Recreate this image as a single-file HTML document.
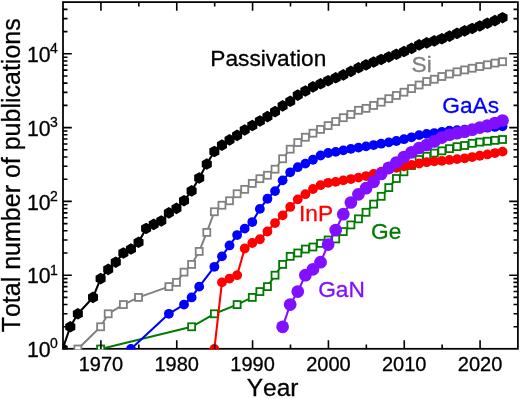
<!DOCTYPE html>
<html lang="en"><head><meta charset="utf-8"><title>Total number of publications</title>
<style>text{font-kerning:none;stroke-width:0.3px;paint-order:stroke fill}html,body{margin:0;padding:0;background:#fff}body{width:520px;height:399px;overflow:hidden;position:relative;font-family:"Liberation Sans",Arial,sans-serif}</style>
</head><body>
<svg width="520" height="399" viewBox="0 0 520 399" style="display:block;position:absolute;left:0;top:0;filter:blur(0.4px)" font-family="'Liberation Sans', Arial, sans-serif">
<rect width="520" height="399" fill="#fff"/>
<defs><clipPath id="c"><rect x="62.6" y="1.6" width="455.8" height="347.8"/></clipPath></defs>
<rect x="63" y="2.1" width="454.9" height="346.7" fill="none" stroke="#000" stroke-width="1.75"/>
<g clip-path="url(#c)">
<polyline fill="none" stroke="#000" stroke-width="2.1" stroke-linejoin="round" points="62.7,349 70.28,326.78 77.87,313.79 93.03,297.42 100.62,278.58 108.2,269.36 115.78,262.2 123.37,252.98 130.95,249.07 138.53,242.31 146.12,228.45 153.7,224.33 161.28,220.97 168.87,212.92 176.45,208.39 184.03,200.7 191.62,190.89 199.2,178 206.78,164.05 214.37,151.5 221.95,145.15 229.53,139.9 237.12,135.35 244.7,129.95 252.28,125.49 259.87,120.99 267.45,116.59 275.03,111.59 282.62,105.85 290.2,101.3 297.78,95.11 305.37,91 312.95,86.85 320.53,83.8 328.12,80.69 335.7,77.79 343.28,74.88 350.87,71.38 358.45,67.82 366.03,64.9 373.62,62.04 381.2,59.43 388.78,56.95 396.37,54.24 403.95,51.56 411.53,48.37 419.12,44.91 426.7,42.88 434.28,40.91 441.87,38.76 449.45,36.15 457.03,33.34 464.62,30.9 472.2,28.46 479.78,25.93 487.37,23.26 494.95,20.59 502.53,17.7"/>
<g fill="#000">
<polygon points="62.7,343.2 57.68,346.1 57.68,351.9 62.7,354.8 67.72,351.9 67.72,346.1"/>
<polygon points="70.28,320.98 65.26,323.88 65.26,329.68 70.28,332.58 75.31,329.68 75.31,323.88"/>
<polygon points="77.87,307.99 72.84,310.89 72.84,316.69 77.87,319.59 82.89,316.69 82.89,310.89"/>
<polygon points="93.03,291.62 88.01,294.52 88.01,300.32 93.03,303.22 98.06,300.32 98.06,294.52"/>
<polygon points="100.62,272.78 95.59,275.68 95.59,281.48 100.62,284.38 105.64,281.48 105.64,275.68"/>
<polygon points="108.2,263.56 103.18,266.46 103.18,272.26 108.2,275.16 113.22,272.26 113.22,266.46"/>
<polygon points="115.78,256.4 110.76,259.3 110.76,265.1 115.78,268 120.81,265.1 120.81,259.3"/>
<polygon points="123.37,247.18 118.34,250.08 118.34,255.88 123.37,258.78 128.39,255.88 128.39,250.08"/>
<polygon points="130.95,243.27 125.93,246.17 125.93,251.97 130.95,254.87 135.97,251.97 135.97,246.17"/>
<polygon points="138.53,236.51 133.51,239.41 133.51,245.21 138.53,248.11 143.56,245.21 143.56,239.41"/>
<polygon points="146.12,222.65 141.09,225.55 141.09,231.35 146.12,234.25 151.14,231.35 151.14,225.55"/>
<polygon points="153.7,218.53 148.68,221.43 148.68,227.23 153.7,230.13 158.72,227.23 158.72,221.43"/>
<polygon points="161.28,215.17 156.26,218.07 156.26,223.87 161.28,226.77 166.31,223.87 166.31,218.07"/>
<polygon points="168.87,207.12 163.84,210.02 163.84,215.82 168.87,218.72 173.89,215.82 173.89,210.02"/>
<polygon points="176.45,202.59 171.43,205.49 171.43,211.29 176.45,214.19 181.47,211.29 181.47,205.49"/>
<polygon points="184.03,194.9 179.01,197.8 179.01,203.6 184.03,206.5 189.06,203.6 189.06,197.8"/>
<polygon points="191.62,185.09 186.59,187.99 186.59,193.79 191.62,196.69 196.64,193.79 196.64,187.99"/>
<polygon points="199.2,172.2 194.18,175.1 194.18,180.9 199.2,183.8 204.22,180.9 204.22,175.1"/>
<polygon points="206.78,158.25 201.76,161.15 201.76,166.95 206.78,169.85 211.81,166.95 211.81,161.15"/>
<polygon points="214.37,145.7 209.34,148.6 209.34,154.4 214.37,157.3 219.39,154.4 219.39,148.6"/>
<polygon points="221.95,139.35 216.93,142.25 216.93,148.05 221.95,150.95 226.97,148.05 226.97,142.25"/>
<polygon points="229.53,134.1 224.51,137 224.51,142.8 229.53,145.7 234.56,142.8 234.56,137"/>
<polygon points="237.12,129.55 232.09,132.45 232.09,138.25 237.12,141.15 242.14,138.25 242.14,132.45"/>
<polygon points="244.7,124.15 239.68,127.05 239.68,132.85 244.7,135.75 249.72,132.85 249.72,127.05"/>
<polygon points="252.28,119.69 247.26,122.59 247.26,128.39 252.28,131.29 257.31,128.39 257.31,122.59"/>
<polygon points="259.87,115.19 254.84,118.09 254.84,123.89 259.87,126.79 264.89,123.89 264.89,118.09"/>
<polygon points="267.45,110.79 262.43,113.69 262.43,119.49 267.45,122.39 272.47,119.49 272.47,113.69"/>
<polygon points="275.03,105.79 270.01,108.69 270.01,114.49 275.03,117.39 280.06,114.49 280.06,108.69"/>
<polygon points="282.62,100.05 277.59,102.95 277.59,108.75 282.62,111.65 287.64,108.75 287.64,102.95"/>
<polygon points="290.2,95.5 285.18,98.4 285.18,104.2 290.2,107.1 295.22,104.2 295.22,98.4"/>
<polygon points="297.78,89.31 292.76,92.21 292.76,98.01 297.78,100.91 302.81,98.01 302.81,92.21"/>
<polygon points="305.37,85.2 300.34,88.1 300.34,93.9 305.37,96.8 310.39,93.9 310.39,88.1"/>
<polygon points="312.95,81.05 307.93,83.95 307.93,89.75 312.95,92.65 317.97,89.75 317.97,83.95"/>
<polygon points="320.53,78 315.51,80.9 315.51,86.7 320.53,89.6 325.56,86.7 325.56,80.9"/>
<polygon points="328.12,74.89 323.09,77.79 323.09,83.59 328.12,86.49 333.14,83.59 333.14,77.79"/>
<polygon points="335.7,71.99 330.68,74.89 330.68,80.69 335.7,83.59 340.72,80.69 340.72,74.89"/>
<polygon points="343.28,69.08 338.26,71.98 338.26,77.78 343.28,80.68 348.31,77.78 348.31,71.98"/>
<polygon points="350.87,65.58 345.84,68.48 345.84,74.28 350.87,77.18 355.89,74.28 355.89,68.48"/>
<polygon points="358.45,62.02 353.43,64.92 353.43,70.72 358.45,73.62 363.47,70.72 363.47,64.92"/>
<polygon points="366.03,59.1 361.01,62 361.01,67.8 366.03,70.7 371.06,67.8 371.06,62"/>
<polygon points="373.62,56.24 368.59,59.14 368.59,64.94 373.62,67.84 378.64,64.94 378.64,59.14"/>
<polygon points="381.2,53.63 376.18,56.53 376.18,62.33 381.2,65.23 386.22,62.33 386.22,56.53"/>
<polygon points="388.78,51.15 383.76,54.05 383.76,59.85 388.78,62.75 393.81,59.85 393.81,54.05"/>
<polygon points="396.37,48.44 391.34,51.34 391.34,57.14 396.37,60.04 401.39,57.14 401.39,51.34"/>
<polygon points="403.95,45.76 398.93,48.66 398.93,54.46 403.95,57.36 408.97,54.46 408.97,48.66"/>
<polygon points="411.53,42.57 406.51,45.47 406.51,51.27 411.53,54.17 416.56,51.27 416.56,45.47"/>
<polygon points="419.12,39.11 414.09,42.01 414.09,47.81 419.12,50.71 424.14,47.81 424.14,42.01"/>
<polygon points="426.7,37.08 421.68,39.98 421.68,45.78 426.7,48.68 431.72,45.78 431.72,39.98"/>
<polygon points="434.28,35.11 429.26,38.01 429.26,43.81 434.28,46.71 439.31,43.81 439.31,38.01"/>
<polygon points="441.87,32.96 436.84,35.86 436.84,41.66 441.87,44.56 446.89,41.66 446.89,35.86"/>
<polygon points="449.45,30.35 444.43,33.25 444.43,39.05 449.45,41.95 454.47,39.05 454.47,33.25"/>
<polygon points="457.03,27.54 452.01,30.44 452.01,36.24 457.03,39.14 462.06,36.24 462.06,30.44"/>
<polygon points="464.62,25.1 459.59,28 459.59,33.8 464.62,36.7 469.64,33.8 469.64,28"/>
<polygon points="472.2,22.66 467.18,25.56 467.18,31.36 472.2,34.26 477.22,31.36 477.22,25.56"/>
<polygon points="479.78,20.13 474.76,23.03 474.76,28.83 479.78,31.73 484.81,28.83 484.81,23.03"/>
<polygon points="487.37,17.46 482.34,20.36 482.34,26.16 487.37,29.06 492.39,26.16 492.39,20.36"/>
<polygon points="494.95,14.79 489.93,17.69 489.93,23.49 494.95,26.39 499.97,23.49 499.97,17.69"/>
<polygon points="502.53,11.9 497.51,14.8 497.51,20.6 502.53,23.5 507.56,20.6 507.56,14.8"/>
</g>
</g>
<g clip-path="url(#c)">
<polyline fill="none" stroke="#808080" stroke-width="2.0" stroke-linejoin="round" points="77.87,349 100.62,326.78 108.2,313.79 123.37,304.57 138.53,297.42 168.87,286.63 176.45,282.35 184.03,272.15 191.62,264.42 199.2,251.42 206.78,232.41 214.37,211.75 221.95,205.24 229.53,200.77 237.12,193.74 244.7,189.36 252.28,183.39 259.87,178.71 267.45,175.25 275.03,169.2 282.62,158.75 290.2,149.2 297.78,142.55 305.37,137.25 312.95,133.2 320.53,129.4 328.12,125.61 335.7,121.54 343.28,117.7 350.87,114.43 358.45,110.29 366.03,108.35 373.62,105.45 381.2,102.2 388.78,98.7 396.37,95.46 403.95,92.2 411.53,88.6 419.12,85 426.7,81.5 434.28,79.25 441.87,76.5 449.45,74 457.03,71.82 464.62,69.93 472.2,68.22 479.78,66.51 487.37,64.8 494.95,63.08 502.53,61.7"/>
<g fill="#fff" stroke="#808080" stroke-width="1.8">
<rect x="74.37" y="345.5" width="7.0" height="7.0"/>
<rect x="97.12" y="323.28" width="7.0" height="7.0"/>
<rect x="104.7" y="310.29" width="7.0" height="7.0"/>
<rect x="119.87" y="301.07" width="7.0" height="7.0"/>
<rect x="135.03" y="293.92" width="7.0" height="7.0"/>
<rect x="165.37" y="283.13" width="7.0" height="7.0"/>
<rect x="172.95" y="278.85" width="7.0" height="7.0"/>
<rect x="180.53" y="268.65" width="7.0" height="7.0"/>
<rect x="188.12" y="260.92" width="7.0" height="7.0"/>
<rect x="195.7" y="247.92" width="7.0" height="7.0"/>
<rect x="203.28" y="228.91" width="7.0" height="7.0"/>
<rect x="210.87" y="208.25" width="7.0" height="7.0"/>
<rect x="218.45" y="201.74" width="7.0" height="7.0"/>
<rect x="226.03" y="197.27" width="7.0" height="7.0"/>
<rect x="233.62" y="190.24" width="7.0" height="7.0"/>
<rect x="241.2" y="185.86" width="7.0" height="7.0"/>
<rect x="248.78" y="179.89" width="7.0" height="7.0"/>
<rect x="256.37" y="175.21" width="7.0" height="7.0"/>
<rect x="263.95" y="171.75" width="7.0" height="7.0"/>
<rect x="271.53" y="165.7" width="7.0" height="7.0"/>
<rect x="279.12" y="155.25" width="7.0" height="7.0"/>
<rect x="286.7" y="145.7" width="7.0" height="7.0"/>
<rect x="294.28" y="139.05" width="7.0" height="7.0"/>
<rect x="301.87" y="133.75" width="7.0" height="7.0"/>
<rect x="309.45" y="129.7" width="7.0" height="7.0"/>
<rect x="317.03" y="125.9" width="7.0" height="7.0"/>
<rect x="324.62" y="122.11" width="7.0" height="7.0"/>
<rect x="332.2" y="118.04" width="7.0" height="7.0"/>
<rect x="339.78" y="114.2" width="7.0" height="7.0"/>
<rect x="347.37" y="110.93" width="7.0" height="7.0"/>
<rect x="354.95" y="106.79" width="7.0" height="7.0"/>
<rect x="362.53" y="104.85" width="7.0" height="7.0"/>
<rect x="370.12" y="101.95" width="7.0" height="7.0"/>
<rect x="377.7" y="98.7" width="7.0" height="7.0"/>
<rect x="385.28" y="95.2" width="7.0" height="7.0"/>
<rect x="392.87" y="91.96" width="7.0" height="7.0"/>
<rect x="400.45" y="88.7" width="7.0" height="7.0"/>
<rect x="408.03" y="85.1" width="7.0" height="7.0"/>
<rect x="415.62" y="81.5" width="7.0" height="7.0"/>
<rect x="423.2" y="78" width="7.0" height="7.0"/>
<rect x="430.78" y="75.75" width="7.0" height="7.0"/>
<rect x="438.37" y="73" width="7.0" height="7.0"/>
<rect x="445.95" y="70.5" width="7.0" height="7.0"/>
<rect x="453.53" y="68.32" width="7.0" height="7.0"/>
<rect x="461.12" y="66.43" width="7.0" height="7.0"/>
<rect x="468.7" y="64.72" width="7.0" height="7.0"/>
<rect x="476.28" y="63.01" width="7.0" height="7.0"/>
<rect x="483.87" y="61.3" width="7.0" height="7.0"/>
<rect x="491.45" y="59.58" width="7.0" height="7.0"/>
<rect x="499.03" y="58.2" width="7.0" height="7.0"/>
</g>
</g>
<g clip-path="url(#c)">
<polyline fill="none" stroke="#007a00" stroke-width="2.0" stroke-linejoin="round" points="100.62,349 191.62,326.78 214.37,313.79 237.12,304.57 252.28,297.42 259.87,291.57 267.45,286.63 275.03,275.2 282.62,264.42 290.2,256.36 297.78,252.98 305.37,249.07 312.95,247.01 320.53,243.37 328.12,239.99 335.7,238.94 343.28,231.58 350.87,224.92 358.45,218.86 366.03,212.29 373.62,204.11 381.2,196.31 388.78,187.6 396.37,178.5 403.95,171.8 411.53,165.5 419.12,159.5 426.7,156.27 434.28,153.09 441.87,150.85 449.45,148.68 457.03,146.69 464.62,145.49 472.2,143.29 479.78,142.09 487.37,141.23 494.95,140.36 502.53,139.5"/>
<g fill="#fff" stroke="#007a00" stroke-width="1.8">
<rect x="97.12" y="345.5" width="7.0" height="7.0"/>
<rect x="188.12" y="323.28" width="7.0" height="7.0"/>
<rect x="210.87" y="310.29" width="7.0" height="7.0"/>
<rect x="233.62" y="301.07" width="7.0" height="7.0"/>
<rect x="248.78" y="293.92" width="7.0" height="7.0"/>
<rect x="256.37" y="288.07" width="7.0" height="7.0"/>
<rect x="263.95" y="283.13" width="7.0" height="7.0"/>
<rect x="271.53" y="271.7" width="7.0" height="7.0"/>
<rect x="279.12" y="260.92" width="7.0" height="7.0"/>
<rect x="286.7" y="252.86" width="7.0" height="7.0"/>
<rect x="294.28" y="249.48" width="7.0" height="7.0"/>
<rect x="301.87" y="245.57" width="7.0" height="7.0"/>
<rect x="309.45" y="243.51" width="7.0" height="7.0"/>
<rect x="317.03" y="239.87" width="7.0" height="7.0"/>
<rect x="324.62" y="236.49" width="7.0" height="7.0"/>
<rect x="332.2" y="235.44" width="7.0" height="7.0"/>
<rect x="339.78" y="228.08" width="7.0" height="7.0"/>
<rect x="347.37" y="221.42" width="7.0" height="7.0"/>
<rect x="354.95" y="215.36" width="7.0" height="7.0"/>
<rect x="362.53" y="208.79" width="7.0" height="7.0"/>
<rect x="370.12" y="200.61" width="7.0" height="7.0"/>
<rect x="377.7" y="192.81" width="7.0" height="7.0"/>
<rect x="385.28" y="184.1" width="7.0" height="7.0"/>
<rect x="392.87" y="175" width="7.0" height="7.0"/>
<rect x="400.45" y="168.3" width="7.0" height="7.0"/>
<rect x="408.03" y="162" width="7.0" height="7.0"/>
<rect x="415.62" y="156" width="7.0" height="7.0"/>
<rect x="423.2" y="152.77" width="7.0" height="7.0"/>
<rect x="430.78" y="149.59" width="7.0" height="7.0"/>
<rect x="438.37" y="147.35" width="7.0" height="7.0"/>
<rect x="445.95" y="145.18" width="7.0" height="7.0"/>
<rect x="453.53" y="143.19" width="7.0" height="7.0"/>
<rect x="461.12" y="141.99" width="7.0" height="7.0"/>
<rect x="468.7" y="139.79" width="7.0" height="7.0"/>
<rect x="476.28" y="138.59" width="7.0" height="7.0"/>
<rect x="483.87" y="137.73" width="7.0" height="7.0"/>
<rect x="491.45" y="136.86" width="7.0" height="7.0"/>
<rect x="499.03" y="136" width="7.0" height="7.0"/>
</g>
</g>
<g clip-path="url(#c)">
<polyline fill="none" stroke="#0000ff" stroke-width="2.1" stroke-linejoin="round" points="130.95,349 168.87,313.79 184.03,304.57 191.62,297.42 199.2,286.63 214.37,266.79 221.95,256.36 229.53,245.45 237.12,235.05 244.7,228.6 252.28,222.05 259.87,208.91 267.45,198.76 275.03,191.1 282.62,180.34 290.2,172.29 297.78,167.2 305.37,163.6 312.95,159.75 320.53,155.5 328.12,153 335.7,151.89 343.28,150.35 350.87,148.91 358.45,147.63 366.03,146.35 373.62,145.03 381.2,143.72 388.78,142.41 396.37,141 403.95,139.2 411.53,137.32 419.12,135.09 426.7,133.96 434.28,133.05 441.87,131.89 449.45,130.73 457.03,130.19 464.62,129.64 472.2,129.09 479.78,128.38 487.37,127.67 494.95,126.97 502.53,126.25"/>
<g fill="#0000ff">
<circle cx="130.95" cy="349" r="4.9"/>
<circle cx="168.87" cy="313.79" r="4.9"/>
<circle cx="184.03" cy="304.57" r="4.9"/>
<circle cx="191.62" cy="297.42" r="4.9"/>
<circle cx="199.2" cy="286.63" r="4.9"/>
<circle cx="214.37" cy="266.79" r="4.9"/>
<circle cx="221.95" cy="256.36" r="4.9"/>
<circle cx="229.53" cy="245.45" r="4.9"/>
<circle cx="237.12" cy="235.05" r="4.9"/>
<circle cx="244.7" cy="228.6" r="4.9"/>
<circle cx="252.28" cy="222.05" r="4.9"/>
<circle cx="259.87" cy="208.91" r="4.9"/>
<circle cx="267.45" cy="198.76" r="4.9"/>
<circle cx="275.03" cy="191.1" r="4.9"/>
<circle cx="282.62" cy="180.34" r="4.9"/>
<circle cx="290.2" cy="172.29" r="4.9"/>
<circle cx="297.78" cy="167.2" r="4.9"/>
<circle cx="305.37" cy="163.6" r="4.9"/>
<circle cx="312.95" cy="159.75" r="4.9"/>
<circle cx="320.53" cy="155.5" r="4.9"/>
<circle cx="328.12" cy="153" r="4.9"/>
<circle cx="335.7" cy="151.89" r="4.9"/>
<circle cx="343.28" cy="150.35" r="4.9"/>
<circle cx="350.87" cy="148.91" r="4.9"/>
<circle cx="358.45" cy="147.63" r="4.9"/>
<circle cx="366.03" cy="146.35" r="4.9"/>
<circle cx="373.62" cy="145.03" r="4.9"/>
<circle cx="381.2" cy="143.72" r="4.9"/>
<circle cx="388.78" cy="142.41" r="4.9"/>
<circle cx="396.37" cy="141" r="4.9"/>
<circle cx="403.95" cy="139.2" r="4.9"/>
<circle cx="411.53" cy="137.32" r="4.9"/>
<circle cx="419.12" cy="135.09" r="4.9"/>
<circle cx="426.7" cy="133.96" r="4.9"/>
<circle cx="434.28" cy="133.05" r="4.9"/>
<circle cx="441.87" cy="131.89" r="4.9"/>
<circle cx="449.45" cy="130.73" r="4.9"/>
<circle cx="457.03" cy="130.19" r="4.9"/>
<circle cx="464.62" cy="129.64" r="4.9"/>
<circle cx="472.2" cy="129.09" r="4.9"/>
<circle cx="479.78" cy="128.38" r="4.9"/>
<circle cx="487.37" cy="127.67" r="4.9"/>
<circle cx="494.95" cy="126.97" r="4.9"/>
<circle cx="502.53" cy="126.25" r="4.9"/>
</g>
</g>
<g clip-path="url(#c)">
<polyline fill="none" stroke="#ff0000" stroke-width="2.1" stroke-linejoin="round" points="214.37,349 221.95,282.35 229.53,278.58 237.12,275.2 244.7,248.5 252.28,243.01 259.87,239.25 267.45,231.5 275.03,223.04 282.62,215.4 290.2,206.95 297.78,199.35 305.37,194.2 312.95,189.01 320.53,185.19 328.12,182.79 335.7,181.89 343.28,180.34 350.87,179.07 358.45,177.62 366.03,176.06 373.62,173.97 381.2,171.75 388.78,169.51 396.37,167.77 403.95,166.35 411.53,164.93 419.12,163.51 426.7,162.21 434.28,161.4 441.87,160.86 449.45,159.96 457.03,159.14 464.62,158.33 472.2,157.04 479.78,155.75 487.37,154.46 494.95,153.06 502.53,151.65"/>
<g fill="#ff0000">
<circle cx="214.37" cy="349" r="4.9"/>
<circle cx="221.95" cy="282.35" r="4.9"/>
<circle cx="229.53" cy="278.58" r="4.9"/>
<circle cx="237.12" cy="275.2" r="4.9"/>
<circle cx="244.7" cy="248.5" r="4.9"/>
<circle cx="252.28" cy="243.01" r="4.9"/>
<circle cx="259.87" cy="239.25" r="4.9"/>
<circle cx="267.45" cy="231.5" r="4.9"/>
<circle cx="275.03" cy="223.04" r="4.9"/>
<circle cx="282.62" cy="215.4" r="4.9"/>
<circle cx="290.2" cy="206.95" r="4.9"/>
<circle cx="297.78" cy="199.35" r="4.9"/>
<circle cx="305.37" cy="194.2" r="4.9"/>
<circle cx="312.95" cy="189.01" r="4.9"/>
<circle cx="320.53" cy="185.19" r="4.9"/>
<circle cx="328.12" cy="182.79" r="4.9"/>
<circle cx="335.7" cy="181.89" r="4.9"/>
<circle cx="343.28" cy="180.34" r="4.9"/>
<circle cx="350.87" cy="179.07" r="4.9"/>
<circle cx="358.45" cy="177.62" r="4.9"/>
<circle cx="366.03" cy="176.06" r="4.9"/>
<circle cx="373.62" cy="173.97" r="4.9"/>
<circle cx="381.2" cy="171.75" r="4.9"/>
<circle cx="388.78" cy="169.51" r="4.9"/>
<circle cx="396.37" cy="167.77" r="4.9"/>
<circle cx="403.95" cy="166.35" r="4.9"/>
<circle cx="411.53" cy="164.93" r="4.9"/>
<circle cx="419.12" cy="163.51" r="4.9"/>
<circle cx="426.7" cy="162.21" r="4.9"/>
<circle cx="434.28" cy="161.4" r="4.9"/>
<circle cx="441.87" cy="160.86" r="4.9"/>
<circle cx="449.45" cy="159.96" r="4.9"/>
<circle cx="457.03" cy="159.14" r="4.9"/>
<circle cx="464.62" cy="158.33" r="4.9"/>
<circle cx="472.2" cy="157.04" r="4.9"/>
<circle cx="479.78" cy="155.75" r="4.9"/>
<circle cx="487.37" cy="154.46" r="4.9"/>
<circle cx="494.95" cy="153.06" r="4.9"/>
<circle cx="502.53" cy="151.65" r="4.9"/>
</g>
</g>
<g clip-path="url(#c)">
<polyline fill="none" stroke="#8010ff" stroke-width="2.1" stroke-linejoin="round" points="282.62,326.78 290.2,304.57 297.78,291.57 305.37,275.2 312.95,269.36 320.53,262.2 328.12,244.57 335.7,229.98 343.28,214.19 350.87,202.51 358.45,194.3 366.03,188.21 373.62,181.79 381.2,174.02 388.78,167.8 396.37,162.5 403.95,157.1 411.53,152.3 419.12,148 426.7,145.01 434.28,141.43 441.87,137.55 449.45,134.75 457.03,133.22 464.62,131.69 472.2,129.64 479.78,127.57 487.37,125.49 494.95,122.98 502.53,120.5"/>
<g fill="#8010ff">
<circle cx="282.62" cy="326.78" r="6.35"/>
<circle cx="290.2" cy="304.57" r="6.35"/>
<circle cx="297.78" cy="291.57" r="6.35"/>
<circle cx="305.37" cy="275.2" r="6.35"/>
<circle cx="312.95" cy="269.36" r="6.35"/>
<circle cx="320.53" cy="262.2" r="6.35"/>
<circle cx="328.12" cy="244.57" r="6.35"/>
<circle cx="335.7" cy="229.98" r="6.35"/>
<circle cx="343.28" cy="214.19" r="6.35"/>
<circle cx="350.87" cy="202.51" r="6.35"/>
<circle cx="358.45" cy="194.3" r="6.35"/>
<circle cx="366.03" cy="188.21" r="6.35"/>
<circle cx="373.62" cy="181.79" r="6.35"/>
<circle cx="381.2" cy="174.02" r="6.35"/>
<circle cx="388.78" cy="167.8" r="6.35"/>
<circle cx="396.37" cy="162.5" r="6.35"/>
<circle cx="403.95" cy="157.1" r="6.35"/>
<circle cx="411.53" cy="152.3" r="6.35"/>
<circle cx="419.12" cy="148" r="6.35"/>
<circle cx="426.7" cy="145.01" r="6.35"/>
<circle cx="434.28" cy="141.43" r="6.35"/>
<circle cx="441.87" cy="137.55" r="6.35"/>
<circle cx="449.45" cy="134.75" r="6.35"/>
<circle cx="457.03" cy="133.22" r="6.35"/>
<circle cx="464.62" cy="131.69" r="6.35"/>
<circle cx="472.2" cy="129.64" r="6.35"/>
<circle cx="479.78" cy="127.57" r="6.35"/>
<circle cx="487.37" cy="125.49" r="6.35"/>
<circle cx="494.95" cy="122.98" r="6.35"/>
<circle cx="502.53" cy="120.5" r="6.35"/>
</g>
</g>
<g stroke="#000" stroke-width="1.6" fill="none" stroke-linecap="butt">
<path d="M100.92 349v-8.8M100.92 2v8.8M138.83 349v-4.5M138.83 2v4.5M176.75 349v-8.8M176.75 2v8.8M214.67 349v-4.5M214.67 2v4.5M252.58 349v-8.8M252.58 2v8.8M290.5 349v-4.5M290.5 2v4.5M328.42 349v-8.8M328.42 2v8.8M366.33 349v-4.5M366.33 2v4.5M404.25 349v-8.8M404.25 2v8.8M442.17 349v-4.5M442.17 2v4.5M480.08 349v-8.8M480.08 2v8.8M63 326.78h4.5M518 326.78h-4.5M63 313.79h4.5M518 313.79h-4.5M63 304.57h4.5M518 304.57h-4.5M63 297.42h4.5M518 297.42h-4.5M63 291.57h4.5M518 291.57h-4.5M63 286.63h4.5M518 286.63h-4.5M63 282.35h4.5M518 282.35h-4.5M63 278.58h4.5M518 278.58h-4.5M63 275.2h8.8M518 275.2h-8.8M63 252.98h4.5M518 252.98h-4.5M63 239.99h4.5M518 239.99h-4.5M63 230.77h4.5M518 230.77h-4.5M63 223.62h4.5M518 223.62h-4.5M63 217.77h4.5M518 217.77h-4.5M63 212.83h4.5M518 212.83h-4.5M63 208.55h4.5M518 208.55h-4.5M63 204.78h4.5M518 204.78h-4.5M63 201.4h8.8M518 201.4h-8.8M63 179.18h4.5M518 179.18h-4.5M63 166.19h4.5M518 166.19h-4.5M63 156.97h4.5M518 156.97h-4.5M63 149.82h4.5M518 149.82h-4.5M63 143.97h4.5M518 143.97h-4.5M63 139.03h4.5M518 139.03h-4.5M63 134.75h4.5M518 134.75h-4.5M63 130.98h4.5M518 130.98h-4.5M63 127.6h8.8M518 127.6h-8.8M63 105.38h4.5M518 105.38h-4.5M63 92.39h4.5M518 92.39h-4.5M63 83.17h4.5M518 83.17h-4.5M63 76.02h4.5M518 76.02h-4.5M63 70.17h4.5M518 70.17h-4.5M63 65.23h4.5M518 65.23h-4.5M63 60.95h4.5M518 60.95h-4.5M63 57.18h4.5M518 57.18h-4.5M63 53.8h8.8M518 53.8h-8.8M63 31.58h4.5M518 31.58h-4.5M63 18.59h4.5M518 18.59h-4.5M63 9.37h4.5M518 9.37h-4.5"/>
</g>
<g fill="#000" stroke="#000" font-size="20px" text-anchor="middle">
<text x="100.92" y="371.2">1970</text>
<text x="176.75" y="371.2">1980</text>
<text x="252.58" y="371.2">1990</text>
<text x="328.42" y="371.2">2000</text>
<text x="404.25" y="371.2">2010</text>
<text x="480.08" y="371.2">2020</text>
</g>
<g fill="#000" stroke="#000" font-size="21.3px" text-anchor="end">
<text x="50.7" y="357.1">10</text>
<text x="57.9" y="348.4" font-size="14px">0</text>
<text x="50.7" y="283.3">10</text>
<text x="57.9" y="274.6" font-size="14px">1</text>
<text x="50.7" y="209.5">10</text>
<text x="57.9" y="200.8" font-size="14px">2</text>
<text x="50.7" y="135.7">10</text>
<text x="57.9" y="127" font-size="14px">3</text>
<text x="50.7" y="61.9">10</text>
<text x="57.9" y="53.2" font-size="14px">4</text>
</g>
<text x="272.6" y="396.4" font-size="24.5px" text-anchor="middle" fill="#000" stroke="#000">Year</text>
<text transform="translate(20.3,175.3) rotate(-90)" font-size="25px" text-anchor="middle" fill="#000" stroke="#000">Total number of publications</text>
<text x="210.3" y="66.1" font-size="22.7px" fill="#000" stroke="#000">Passivation</text>
<text x="411.5" y="72.3" font-size="22.7px" fill="#808080" stroke="#808080">Si</text>
<text x="442.3" y="112.9" font-size="22.7px" fill="#0000ff" stroke="#0000ff">GaAs</text>
<text x="299" y="220.5" font-size="22.7px" fill="#ff0000" stroke="#ff0000">InP</text>
<text x="371" y="238.8" font-size="22.7px" fill="#007a00" stroke="#007a00">Ge</text>
<text x="318.2" y="296.8" font-size="22.7px" fill="#8010ff" stroke="#8010ff">GaN</text>
</svg>
</body></html>
